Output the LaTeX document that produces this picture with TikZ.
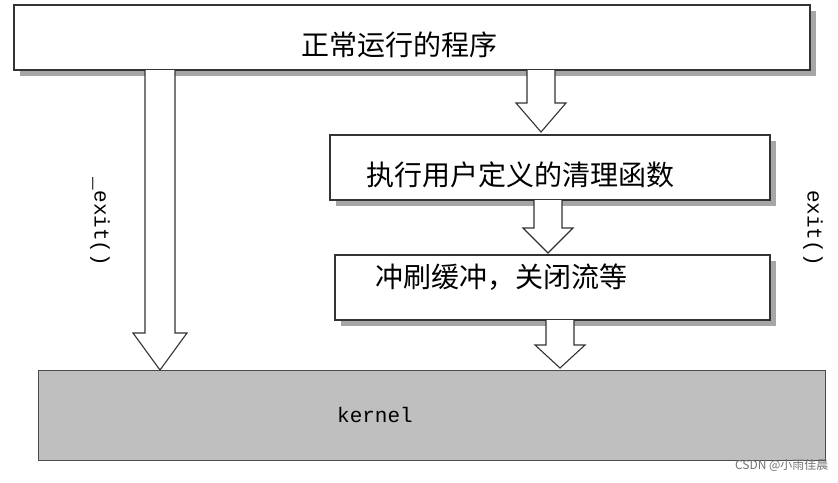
\documentclass[tikz,border=0pt]{standalone}
\usepackage{fontspec}
\newfontfamily\cjk{Noto Sans CJK SC}
\setmonofont{Liberation Mono}
\begin{document}
\begin{tikzpicture}[x=1pt,y=-1pt,
  boxst/.style={draw=black!80,line width=1.2pt,fill=white},
  shad/.style={fill=black!35},
  lbl/.style={font=\cjk\fontsize{28}{28}\selectfont},
  mono/.style={font=\ttfamily\fontsize{21}{21}\selectfont},
  arr/.style={draw=black!80,line width=1.1pt,fill=white}]
\useasboundingbox (0,0) rectangle (838,482);
% shadows
\fill[shad] (20,11) rectangle (816,76);
\fill[shad] (336,141) rectangle (776,206);
\fill[shad] (341,261) rectangle (776,326);
% boxes
\draw[boxst] (14,5) rectangle (810,70);
\node[lbl] (p1) at (399,45) {正常运行的程序};
\draw[boxst] (330,135) rectangle (770,200);
\node[lbl] (p2) at (520,175) {执行用户定义的清理函数};
\draw[boxst] (335,255) rectangle (770,320);
\node[lbl] (p3) at (501,277) {冲刷缓冲，关闭流等};
\draw[draw=black!70,line width=1pt,fill=black!25] (38,370) rectangle (825,460);
\node[mono] (k) at (375,415) {kernel};
% block arrows
\newcommand\barrow[6]{% xc, ytop, ybase, yend, halfshaft, halfhead
  \draw[arr] (#1-#5,#2) -- (#1-#5,#3) -- (#1-#6,#3) -- (#1,#4) -- (#1+#6,#3) -- (#1+#5,#3) -- (#1+#5,#2);}
\barrow{160}{70}{333}{370}{15}{27}
\barrow{541}{70}{103}{132}{14}{25}
\barrow{548}{200}{228}{253}{14}{25}
\barrow{560}{320}{345}{368}{14}{25}
\node[mono,rotate=-90] (e1) at (100,222) {\_exit()};
\node[mono,rotate=-90] (e2) at (813,228) {exit()};
\node[font=\cjk\fontsize{12}{12}\selectfont,text=black!55,anchor=east] (w) at (832,465) {CSDN @小雨佳晨};
\end{tikzpicture}
\end{document}
